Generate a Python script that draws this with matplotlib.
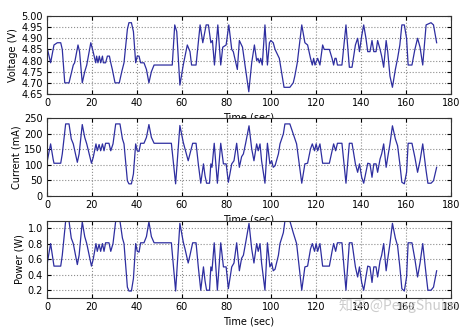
import matplotlib
matplotlib.use("Agg")
import matplotlib.pyplot as plt

# voltage trace (sec, V)
time_v = [0, 1.6, 3.1, 4.6, 6.1, 6.8, 7.9, 9.8, 10.5, 11.7, 12.3, 13.8, 14.5, 15.7,
          16.8, 17.7, 19.5, 20.3, 21.7, 22.1, 22.7, 23.3, 23.9, 24.7, 25.1, 26.1,
          26.9, 27.8, 28.4, 29.1, 30.3, 32.2, 33.3, 34.3, 35.8, 36.5, 37.6, 38.5,
          39.5, 40.2, 41.0, 41.7, 43.2, 44.3, 45.4, 46.5, 47.7, 55.8, 56.9, 57.8,
          59.2, 60.7, 62.5, 63.7, 64.4, 66.4, 68.2, 69.4, 70.9, 71.9, 73.0, 73.7,
          74.6, 76.1, 77.4, 78.3, 79.8, 81.0, 82.3, 83.0, 84.8, 85.7, 87.1, 88.2,
          89.9, 91.2, 92.4, 93.4, 94.0, 94.6, 95.2, 95.9, 97.1, 98.2, 99.1, 99.7,
          100.8, 101.6, 103.5, 105.6, 106.4, 108.2, 109.7, 110.4, 111.5, 113.5,
          114.9, 116.1, 117.4, 118.2, 118.8, 119.4, 119.8, 120.6, 121.6, 122.8,
          123.5, 125.8, 127.0, 127.7, 128.3, 128.8, 129.4, 131.4, 133.2, 134.7,
          135.9, 137.4, 138.4, 139.2, 140.2, 141.1, 142.1, 142.9, 143.9, 144.8,
          145.6, 146.6, 147.3, 148.4, 149.1, 150.0, 151.1, 151.8, 152.8, 153.9,
          155.2, 156.2, 157.2, 158.1, 159.2, 160.2, 160.9, 162.6, 163.9, 165.1,
          166.2, 167.4, 168.9, 171.1, 172.2, 173.6]
voltage = [4.86, 4.79, 4.87, 4.88, 4.88, 4.85, 4.70, 4.70, 4.73, 4.78, 4.79, 4.87, 4.84, 4.70,
           4.75, 4.78, 4.88, 4.85, 4.79, 4.82, 4.79, 4.82, 4.79, 4.82, 4.79, 4.79,
           4.82, 4.82, 4.79, 4.76, 4.70, 4.70, 4.75, 4.79, 4.94, 4.97, 4.97, 4.93,
           4.79, 4.82, 4.82, 4.79, 4.79, 4.76, 4.70, 4.75, 4.78, 4.78, 4.96, 4.93,
           4.69, 4.78, 4.87, 4.84, 4.78, 4.78, 4.96, 4.88, 4.96, 4.96, 4.88, 4.89,
           4.78, 4.96, 4.78, 4.86, 4.87, 4.96, 4.85, 4.84, 4.76, 4.89, 4.86, 4.78,
           4.66, 4.79, 4.87, 4.80, 4.81, 4.79, 4.81, 4.78, 4.96, 4.78, 4.88, 4.89,
           4.88, 4.85, 4.81, 4.68, 4.68, 4.68, 4.70, 4.73, 4.79, 4.96,
           4.88, 4.87, 4.81, 4.78, 4.81, 4.78, 4.79, 4.81, 4.78, 4.87,
           4.85, 4.85, 4.81, 4.78, 4.81, 4.81, 4.78, 4.78, 4.96, 4.77,
           4.77, 4.87, 4.90, 4.84, 4.91, 4.96, 4.90, 4.84, 4.84, 4.89,
           4.84, 4.84, 4.89, 4.85, 4.82, 4.77, 4.89, 4.84, 4.73, 4.68,
           4.76, 4.81, 4.87, 4.96, 4.96, 4.90, 4.78, 4.78, 4.85, 4.90,
           4.86, 4.78, 4.96, 4.97, 4.96, 4.88]

# current / power trace (sec, mA, W)
time_i = [0, 1.6, 2.7, 3.1, 6.1, 6.8, 8.3, 9.8, 10.8, 11.7, 13.5, 14.3, 15.7, 16.8,
          17.7, 19.8, 20.6, 21.8, 22.4, 23.2, 23.9, 24.7, 25.4, 26.1, 27.6, 28.4,
          29.4, 30.6, 32.5, 33.6, 34.3, 35.8, 36.5, 37.6, 38.5, 39.5, 40.2, 41.0,
          41.7, 43.2, 44.3, 45.4, 46.5, 47.7, 55.4, 57.3, 59.2, 60.7, 61.5, 62.9,
          63.7, 64.9, 66.4, 67.4, 68.5, 69.7, 70.4, 71.1, 72.4, 73.0, 73.5, 74.5,
          75.9, 77.4, 78.6, 79.8, 80.8, 82.3, 83.3, 84.5, 85.7, 86.7, 87.5, 88.5,
          90.0, 91.2, 92.2, 93.4, 94.1, 94.9, 95.6, 97.1, 98.2, 99.3, 100.1, 100.8,
          101.6, 103.1, 103.8, 105.3, 106.0, 108.2, 109.7, 111.2, 113.5, 114.9,
          116.1, 117.4, 118.2, 119.2, 119.9, 120.6, 121.6, 122.8, 125.8, 127.0,
          127.7, 128.6, 129.4, 131.4, 133.2, 134.7, 135.9, 137.4, 138.4, 139.2,
          140.2, 141.1, 142.1, 142.9, 143.9, 144.8, 145.6, 146.6, 147.3, 148.4,
          149.1, 150.0, 151.1, 151.8, 152.8, 153.9, 155.2, 156.2, 157.2, 158.1,
          159.2, 160.2, 160.9, 162.6, 163.9, 165.1, 166.2, 167.4, 168.9, 169.7,
          171.1, 172.2, 173.6]
current = [108, 167, 119, 105, 105, 135, 231, 231, 183, 167, 108, 135, 229, 188,
           167, 105, 124, 167, 145, 165, 145, 167, 145, 169, 169, 145,
           167, 231, 231, 183, 167, 49, 39, 39, 71, 167, 145, 143,
           169, 169, 188, 229, 188, 169, 169, 39, 226, 172, 151, 113,
           135, 169, 169, 103, 41, 103, 65, 41, 41, 103, 92, 169,
           41, 169, 103, 103, 44, 103, 113, 169, 92, 126, 135, 169,
           225, 151, 113, 167, 145, 167, 113, 41, 169, 103, 113, 92,
           97, 135, 167, 199, 231, 231, 199, 167, 41, 103,
           105, 151, 167, 145, 167, 145, 167, 105, 105, 145,
           167, 145, 169, 169, 41, 169, 169, 103, 76, 103,
           60, 41, 76, 105, 103, 60, 103, 103, 76, 119,
           135, 167, 92, 124, 167, 225, 183, 161, 103, 44,
           39, 76, 169, 169, 124, 76, 113, 167, 81, 41,
           41, 49, 92]
power = [0.53, 0.80, 0.58, 0.51, 0.51, 0.65, 1.09, 1.09, 0.87, 0.80, 0.53, 0.65, 1.08, 0.89,
         0.80, 0.51, 0.60, 0.80, 0.70, 0.79, 0.70, 0.80, 0.70, 0.81, 0.81, 0.70,
         0.80, 1.09, 1.09, 0.87, 0.80, 0.24, 0.19, 0.19, 0.35, 0.80, 0.70, 0.69,
         0.81, 0.81, 0.89, 1.08, 0.89, 0.81, 0.81, 0.19, 1.06, 0.82, 0.73, 0.55,
         0.65, 0.81, 0.81, 0.50, 0.20, 0.50, 0.32, 0.20, 0.20, 0.50, 0.45, 0.81,
         0.20, 0.81, 0.50, 0.50, 0.22, 0.50, 0.55, 0.81, 0.45, 0.61, 0.65, 0.81,
         1.06, 0.73, 0.55, 0.80, 0.70, 0.80, 0.55, 0.20, 0.81, 0.50, 0.55, 0.45,
         0.47, 0.65, 0.80, 0.94, 1.09, 1.09, 0.94, 0.80, 0.20, 0.50,
         0.51, 0.73, 0.80, 0.70, 0.80, 0.70, 0.80, 0.51, 0.51, 0.70,
         0.80, 0.70, 0.81, 0.81, 0.20, 0.81, 0.81, 0.50, 0.37, 0.50,
         0.30, 0.20, 0.37, 0.51, 0.50, 0.30, 0.50, 0.50, 0.37, 0.58,
         0.65, 0.80, 0.45, 0.60, 0.80, 1.06, 0.87, 0.77, 0.50, 0.22,
         0.19, 0.37, 0.81, 0.81, 0.60, 0.37, 0.55, 0.80, 0.40, 0.20,
         0.20, 0.24, 0.45]

panels = [
    (time_v, voltage, "Voltage (V)", (4.65, 5.00), [4.65, 4.70, 4.75, 4.80, 4.85, 4.90, 4.95, 5.00]),
    (time_i, current, "Current (mA)", (0, 250), [0, 50, 100, 150, 200, 250]),
    (time_i, power, "Power (W)", (0.1, 1.09), [0.2, 0.4, 0.6, 0.8, 1.0]),
]

plt.rcParams['font.family'] = ['DejaVu Sans']
fig = plt.figure(figsize=(4.74, 3.32), dpi=100)

boxes = [(0.0992, 0.7169, 0.8523, 0.2349),
         (0.0992, 0.4096, 0.8523, 0.2350),
         (0.0992, 0.1024, 0.8523, 0.2319)]

for (t, y, label, ylim, yticks), box in zip(panels, boxes):
    ax = fig.add_axes(box)
    ax.plot(t, y, color='#2e2ea0', lw=0.9)
    ax.set_xlim(0, 180)
    ax.set_ylim(*ylim)
    ax.set_xticks(range(0, 181, 20))
    ax.set_yticks(yticks)
    if label == "Voltage (V)":
        ax.set_yticklabels([f"{v:.2f}" for v in yticks])
    ax.grid(True, ls=':', color='0.55', lw=0.8)
    ax.tick_params(direction='in', top=True, right=True, labelsize=7, length=3, pad=3)
    ax.set_xlabel("Time (sec)", fontsize=7, labelpad=3)
    ax.set_ylabel(label, fontsize=7, labelpad=2)
    for s in ax.spines.values():
        s.set_color('0.2')
        s.set_linewidth(0.8)

fig.text(0.715, 0.08, "知乎 @PengShuim", fontsize=10, color='0.78', alpha=0.9,
         family=['Noto Sans CJK SC', 'DejaVu Sans'], va='center')

fig.savefig("out.png", dpi=100)
